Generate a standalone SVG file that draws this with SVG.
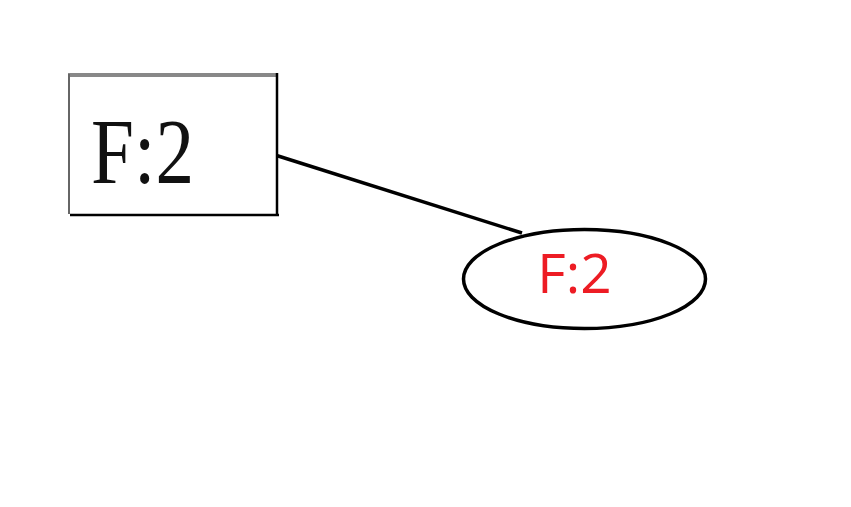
<svg xmlns="http://www.w3.org/2000/svg" width="851" height="507" viewBox="0 0 851 507">
<style>
.conn{stroke:#000;stroke-width:3.5;fill:none}
.serif{font-family:"Liberation Serif",serif;fill:#111}
.red{font-family:"Open Sans","Noto Sans",sans-serif;fill:#ed1c24}
</style>
<rect width="851" height="507" fill="#fff"/>
<g id="connectors">
<line class="conn" x1="275" y1="155" x2="522" y2="233"/>
</g>
<g id="box">
<rect x="68" y="75" width="209" height="140" fill="#fff" stroke="none"/>
<line x1="68" y1="75" x2="277" y2="75" stroke="#888" stroke-width="4"/>
<line x1="69" y1="74" x2="69" y2="214" stroke="#666" stroke-width="2"/>
<line x1="277" y1="73" x2="277" y2="216" stroke="#000" stroke-width="2.5"/>
<line x1="70" y1="215" x2="279" y2="215" stroke="#000" stroke-width="2.5"/>
<text class="serif" x="91" y="183" font-size="94" textLength="103" lengthAdjust="spacingAndGlyphs">F:2</text>
</g>
<g id="ellipse-node">
<ellipse cx="584.5" cy="279" rx="121" ry="49.5" fill="#fff" stroke="#000" stroke-width="3.5"/>
<text class="red" x="574.5" y="293" font-size="55" text-anchor="middle">F:2</text>
</g>
</svg>
